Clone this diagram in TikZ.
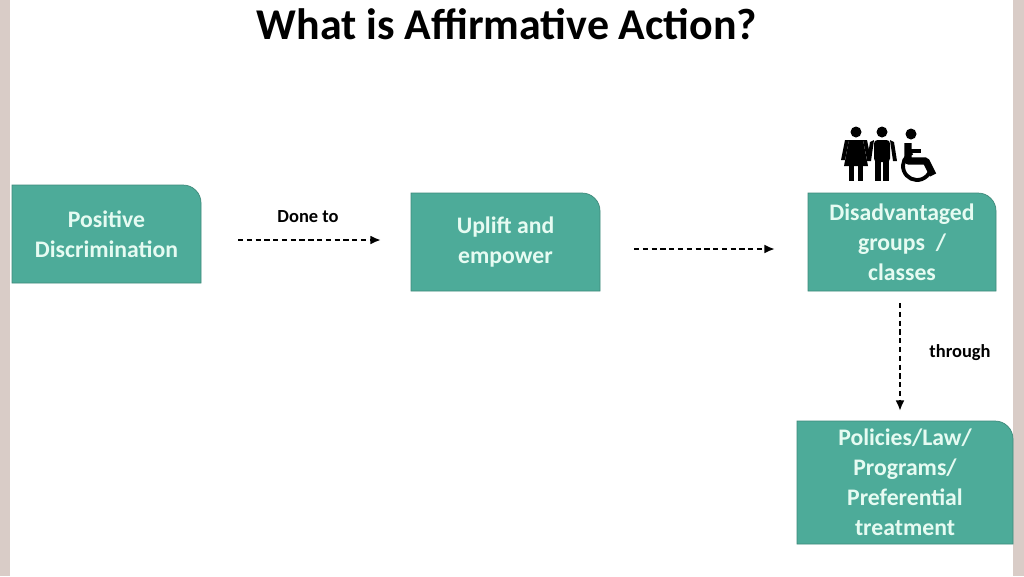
\documentclass[tikz,border=0pt]{standalone}
\usepackage{fontspec}
\setmainfont{Carlito}
\usetikzlibrary{arrows.meta}
\definecolor{teal}{HTML}{4DAB99}
\definecolor{mint}{HTML}{E6FBF2}
\definecolor{side}{HTML}{D9CCC7}
\tikzset{
 boxn/.style={text=mint,font=\bfseries\fontsize{13.5}{17}\selectfont,align=center,inner sep=0pt},
 darr/.style={densely dashed,line width=1.3pt,-{Latex[length=6pt,width=5pt]}},
 lbl/.style={font=\bfseries\fontsize{10.5}{12}\selectfont}
}
\newcommand{\tbox}[5]{% name, x1,y1,x2,y2
 \fill[teal,draw=teal!80!black,line width=0.4pt] (#2,#5) -- (#2,#3) -- ({#4-18},#3) .. controls ({#4-8},#3) and (#4,{#3+8}) .. (#4,{#3+18}) -- (#4,#5) -- cycle;
 \coordinate (#1) at ({(#2+#4)/2},{(#3+#5)/2});}
\begin{document}
\begin{tikzpicture}[x=0.02cm,y=-0.02cm]
\useasboundingbox (0,0) rectangle (1024,576);
\fill[white] (0,0) rectangle (1024,576);
\fill[side] (0,0) rectangle (10,576);
\fill[side] (1013,0) rectangle (1024,576);
\node[font=\bfseries\fontsize{25}{30}\selectfont] (title) at (507,24) {What is Affirmative Action?};
\tbox{a}{12}{185}{201}{283}
\node[boxn] (ta) at (a) {Positive\\Discrimination};
\tbox{b}{411}{193}{600}{291}
\node[boxn] (tb) at (b) {Uplift and\\empower};
\tbox{c}{808}{193}{996}{291}
\node[boxn] (tc) at (c) {Disadvantaged\\groups\ \ /\\classes};
\tbox{d}{797}{421}{1013}{544}
\node[boxn] (td) at (d) {Policies/Law/\\Programs/\\Preferential\\treatment};
\coordinate (a1) at (238,240); \coordinate (a2) at (381,240);
\draw[darr] (a1) -- (a2);
\node[lbl] (dt) at (308,217) {Done to};
\coordinate (b1) at (634,249); \coordinate (b2) at (775,249);
\draw[darr] (b1) -- (b2);
\coordinate (c1) at (900,303); \coordinate (c2) at (900,411);
\draw[darr] (c1) -- (c2);
\node[lbl] (th) at (960,353) {through};
% icons
\begin{scope}[fill=black]
 % woman
 \fill (856,132) circle (5.5);
 \fill (849,140) -- (863,140) -- (868,166) -- (844,166) -- cycle;
 \fill (849,140) -- (845,140) -- (841,160) -- (845,160) -- cycle;
 \fill (863,140) -- (867,140) -- (871,160) -- (867,160) -- cycle;
 \fill (849,165) rectangle (854,181);
 \fill (858,165) rectangle (863,181);
 % man
 \fill (882,132) circle (5.5);
 \fill[rounded corners=2] (874,140) rectangle (890,162);
 \fill (874,140) -- (870,142) -- (867,161) -- (871,161) -- cycle;
 \fill (890,140) -- (894,142) -- (897,161) -- (893,161) -- cycle;
 \fill (875,160) rectangle (881,181);
 \fill (883,160) rectangle (889,181);
\end{scope}
\begin{scope}[shift={(917,166)},y=0.02cm]
 \fill (-6,32) circle (5.5);
 \draw[line width=4pt,line join=round] (-9,23) -- (-9,5) -- (9,5) -- (16,-9);
 \draw[line width=2.5pt] (-9,15) -- (4,15);
 \draw[line width=2.2pt] (110:14) arc[start angle=110,end angle=340,radius=14];
\end{scope}
\end{tikzpicture}
\end{document}
